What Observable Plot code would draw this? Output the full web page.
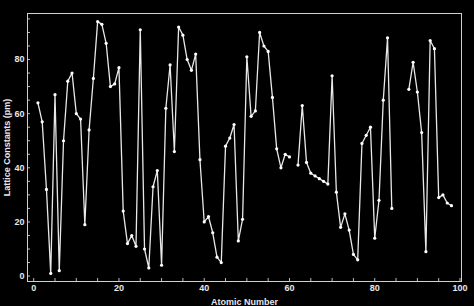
<!DOCTYPE html>
<html>
<head>
<meta charset="utf-8">
<script src="https://cdn.jsdelivr.net/npm/d3@7"></script>
<script src="https://cdn.jsdelivr.net/npm/@observablehq/plot@0.6"></script>
<style>
  html, body { margin: 0; padding: 0; background: #000; }
  #chart svg { display: block; }
</style>
</head>
<body>
<div id="chart"></div>
<script>
const atomicNumbers = d3.range(1, 99);
const latticeConstants = [
  64, 57, 32, 1, 67, 2, 50, 72, 75, 60,
  58, 19, 54, 73, 94, 93, 86, 70, 71, 77,
  24, 12, 15, 11, 91, 10, 3, 33, 39, 4,
  62, 78, 46, 92, 89, 80, 76, 82, 43, 20,
  22, 16, 7, 5, 48, 51, 56, 13, 21, 81,
  59, 61, 90, 85, 83, 66, 47, 40, 45, 44,
  null, 41, 63, 42, 38, 37, 36, 35, 34, 74,
  31, 18, 23, 17, 8, 6, 49, 52, 55, 14,
  28, 65, 88, 25, null, null, null, 69, 79, 68,
  53, 9, 87, 84, 29, 30, 27, 26
];
const xTickLabels = [0, 20, 40, 60, 80, 100];
const yTickLabels = [0, 20, 40, 60, 80];
const xMinorTicks = d3.range(0, 101, 5);
const yMinorTicks = d3.range(0, 96, 5);

const data = atomicNumbers.map((n, i) => ({n, v: latticeConstants[i]}));
const pts = data.filter(d => d.v != null);

const fg = "#e8e8e8";
const chart = Plot.plot({
  width: 474,
  height: 306,
  marginLeft: 27,
  marginRight: 13,
  marginTop: 13,
  marginBottom: 25,
  style: {background: "#000", color: fg, fontFamily: "'Liberation Sans', Arial, sans-serif", fontSize: "9px", fontWeight: "bold"},
  x: {domain: [-1.45, 100.35]},
  y: {domain: [-2, 97]},
  marks: [
    Plot.tickX(xMinorTicks, {x: d => d, stroke: "#bbb", strokeWidth: 1, insetTop: 265}),
    Plot.tickY(yMinorTicks, {y: d => d, stroke: "#bbb", strokeWidth: 1, insetRight: 431}),
    Plot.line(data, {x: "n", y: "v", stroke: fg, strokeWidth: 1.3}),
    Plot.dot(pts, {x: "n", y: "v", r: 1.6, fill: "#fff", stroke: "none"}),
    Plot.axisX(xTickLabels, {tickSize: 0, tickPadding: 3, label: "Atomic Number", labelAnchor: "center", labelArrow: "none", labelOffset: 23, fill: fg}),
    Plot.axisY(yTickLabels, {tickSize: 0, tickPadding: 3, label: "Lattice Constants (pm)", labelAnchor: "center", labelArrow: "none", labelOffset: 24, fill: fg}),
    Plot.frame({stroke: "#d0d0d0", strokeWidth: 1})
  ]
});
document.getElementById("chart").appendChild(chart);
</script>
</body>
</html>
